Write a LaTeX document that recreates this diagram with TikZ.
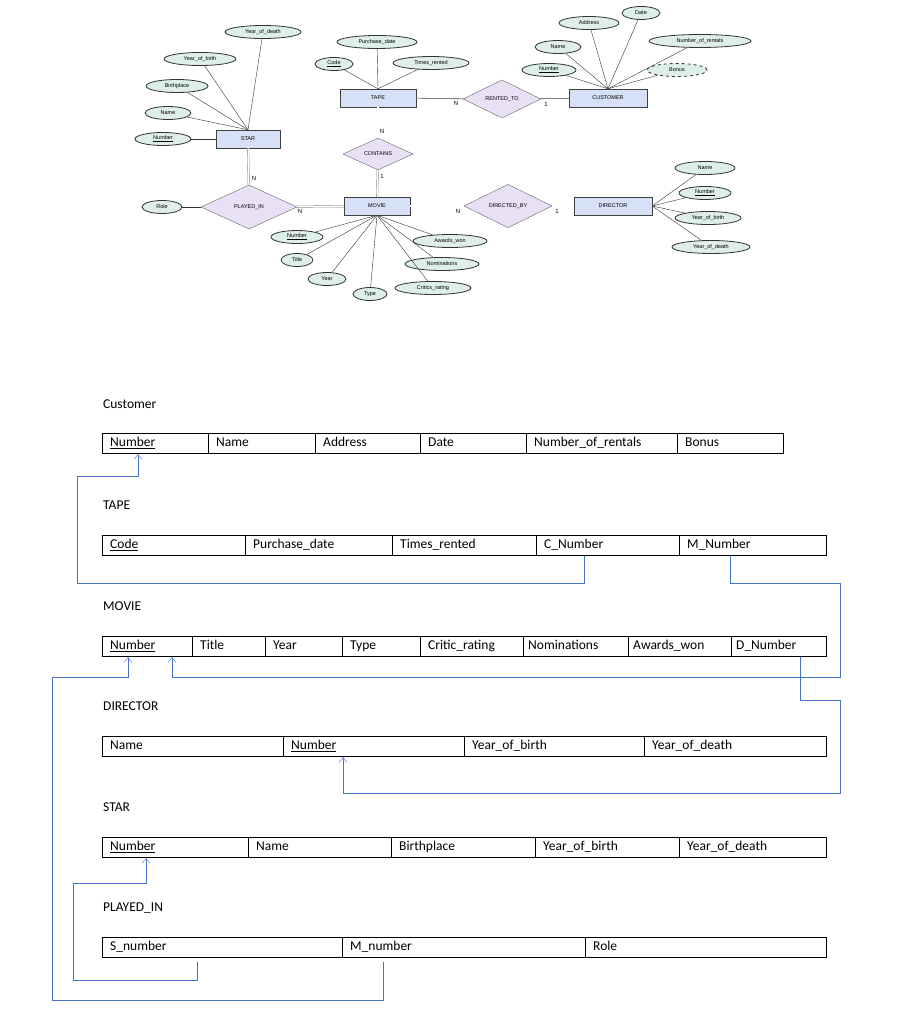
\documentclass[tikz,border=0pt]{standalone}
\usepackage{fontspec}
\setmainfont{Carlito}
\newfontfamily\erfont{Liberation Sans}
\usetikzlibrary{shapes.geometric,arrows.meta}
\definecolor{entfill}{RGB}{214,224,246}
\definecolor{relfill}{RGB}{232,224,244}
\definecolor{attfill}{RGB}{222,238,234}
\definecolor{arr}{RGB}{68,114,196}
\tikzset{
 ent/.style={draw=black!75,fill=entfill,minimum width=#1,minimum height=18pt,inner sep=0pt,font=\erfont\fontsize{5.5}{6}\selectfont},
 rel/.style={draw=black!60,fill=relfill,diamond,minimum width=#1,minimum height=38pt,inner sep=0pt,font=\erfont\fontsize{5.5}{6}\selectfont},
 att/.style={draw=black!80,thick,fill=attfill,ellipse,minimum width=#1,minimum height=13pt,inner sep=0pt,font=\erfont\fontsize{5.5}{6}\selectfont},
 dbl/.style={draw=gray,double=white,double distance=1.2pt,thin},
 sgl/.style={draw=gray,thick},
 al/.style={black!80,thin},
 card/.style={font=\erfont\fontsize{6}{7}\selectfont,inner sep=0pt},
 cell/.style={draw,anchor=west,minimum height=20pt,inner xsep=8pt,inner ysep=0pt,align=left,text height=10pt,text depth=3pt,font=\fontsize{13.5}{15}\selectfont},
 ttl/.style={anchor=west,inner sep=0pt,font=\fontsize{13.5}{15}\selectfont},
 fk/.style={draw=arr,thin},
 fka/.style={draw=arr,thin,-{Straight Barb[length=5pt,width=8pt]}}
}
\begin{document}
\begin{tikzpicture}[x=1pt,y=-1pt]
\useasboundingbox (0,0) rectangle (923,1024);
% ---------- ER diagram ----------
\node[ent=64pt] (STAR) at (248,139) {STAR};
\node[ent=76pt] (TAPE) at (378,98) {TAPE};
\node[ent=66pt] (MOVIE) at (377,206) {MOVIE};
\node[ent=78pt] (CUST) at (608,98) {CUSTOMER};
\node[ent=78pt] (DIR) at (613,206) {DIRECTOR};
\node[rel=70pt,minimum height=30pt] (CONT) at (378,154) {CONTAINS};
\node[rel=96pt,minimum height=44pt] (PLAY) at (249,207) {PLAYED\_IN};
\node[rel=78pt,minimum height=36pt] (RENT) at (502,99) {RENTED\_TO};
\node[rel=88pt,minimum height=40pt] (DIRBY) at (508,206) {DIRECTED\_BY};
% star attributes
\node[att=76pt] (sYd) at (263,32) {Year\_of\_death};
\node[att=72pt] (sYb) at (200,59) {Year\_of\_birth};
\node[att=62pt] (sBp) at (177,86) {Birthplace};
\node[att=46pt] (sNa) at (168,113) {Name};
\node[att=56pt] (sNu) at (163,139) {\underline{Number}};
\node[att=40pt] (role) at (162,207) {Role};
% tape attributes
\node[att=80pt] (tPd) at (377,42) {Purchase\_date};
\node[att=38pt] (tCo) at (334,64) {\underline{Code}};
\node[att=76pt] (tTr) at (431,63) {Times\_rented};
% customer attributes
\node[att=60pt] (cAd) at (589,23) {Address};
\node[att=38pt] (cDa) at (641,13) {Date};
\node[att=46pt] (cNa) at (558,47) {Name};
\node[att=54pt] (cNu) at (549,70) {\underline{Number}};
\node[att=102pt] (cNr) at (700,41) {Number\_of\_rentals};
\node[att=60pt,dashed] (cBo) at (677,70) {Bonus};
% director attributes
\node[att=60pt] (dNa) at (705,168) {Name};
\node[att=52pt] (dNu) at (705,193) {\underline{Number}};
\node[att=66pt] (dYb) at (708,218) {Year\_of\_birth};
\node[att=78pt] (dYd) at (711,247) {Year\_of\_death};
% movie attributes
\node[att=52pt] (mNu) at (297,237) {\underline{Number}};
\node[att=32pt] (mTi) at (297,260) {Title};
\node[att=38pt] (mYe) at (327,279) {Year};
\node[att=34pt] (mTy) at (370,294) {Type};
\node[att=74pt] (mAw) at (450,241) {Awards\_won};
\node[att=74pt] (mNo) at (442,264) {Nominations};
\node[att=76pt] (mCr) at (433,288) {Critics\_rating};
% attribute lines
\foreach \a in {sYd,sYb,sBp,sNa} \draw[al] (\a) -- (STAR.north);
\draw[al] (sNu) -- (STAR);
\draw[al] (role) -- (PLAY);
\foreach \a in {tPd,tCo,tTr} \draw[al] (\a) -- (TAPE.north);
\foreach \a in {cAd,cDa,cNa,cNu,cNr,cBo} \draw[al] (\a) -- (CUST.north);
\foreach \a in {dNa,dNu,dYb,dYd} \draw[al] (\a) -- (DIR.east);
\foreach \a in {mNu,mTi,mYe,mTy,mAw,mNo,mCr} \draw[al] (\a) -- (MOVIE.south);
% relationship lines
\draw[dbl] (STAR) -- (PLAY);
\draw[dbl] (PLAY) -- (MOVIE);
\draw[dbl] (TAPE) -- (CONT);
\draw[dbl] (CONT) -- (MOVIE);
\draw[dbl] (MOVIE) -- (DIRBY);
\draw[dbl] (DIRBY) -- (DIR);
\draw[sgl] (TAPE) -- (RENT);
\draw[sgl] (RENT) -- (CUST);
% cardinalities
\node[card] (k1) at (254,178) {N};
\node[card] (k2) at (300,211) {N};
\node[card] (k3) at (382,131) {N};
\node[card] (k4) at (382,176) {1};
\node[card] (k5) at (456,103) {N};
\node[card] (k6) at (546,104) {1};
\node[card] (k7) at (458,211) {N};
\node[card] (k8) at (557,211) {1};
% ---------- Relational tables ----------
\node[ttl] (tcust) at (103,404) {Customer};
\node[cell,text width=90pt] (c1) at (102,443) {\underline{Number}};
\node[cell,text width=91pt] (c2) at (208,443) {Name};
\node[cell,text width=89pt] (c3) at (315,443) {Address};
\node[cell,text width=90pt] (c4) at (420,443) {Date};
\node[cell,text width=135pt] (c5) at (526,443) {Number\_of\_rentals};
\node[cell,text width=90pt] (c6) at (677,443) {Bonus};

\node[ttl] (ttape) at (103,505) {TAPE};
\node[cell,text width=127pt] (t1) at (102,545) {\underline{Code}};
\node[cell,text width=131pt] (t2) at (245,545) {Purchase\_date};
\node[cell,text width=128pt] (t3) at (392,545) {Times\_rented};
\node[cell,text width=127pt] (t4) at (536,545) {C\_Number};
\node[cell,text width=131pt] (t5) at (679,545) {M\_Number};

\node[ttl] (tmovie) at (103,606) {MOVIE};
\node[cell,text width=74pt] (m1) at (102,646) {\underline{Number}};
\node[cell,text width=57pt] (m2) at (192,646) {Title};
\node[cell,text width=61pt] (m3) at (265,646) {Year};
\node[cell,text width=62pt] (m4) at (342,646) {Type};
\node[cell,text width=87pt] (m5) at (420,646) {Critic\_rating};
\node[cell,text width=89pt,inner xsep=5pt,text width=95pt] (m6) at (523,646) {Nominations};
\node[cell,text width=93pt,inner xsep=5pt] (m7) at (628,646) {Awards\_won};
\node[cell,text width=85pt,inner xsep=5pt] (m8) at (731,646) {D\_Number};

\node[ttl] (tdir) at (103,706) {DIRECTOR};
\node[cell,text width=165pt] (d1) at (102,746) {Name};
\node[cell,text width=165pt] (d2) at (283,746) {\underline{Number}};
\node[cell,text width=164pt] (d3) at (464,746) {Year\_of\_birth};
\node[cell,text width=166pt] (d4) at (644,746) {Year\_of\_death};

\node[ttl] (tstar) at (103,807) {STAR};
\node[cell,text width=130pt] (s1) at (102,847) {\underline{Number}};
\node[cell,text width=127pt] (s2) at (248,847) {Name};
\node[cell,text width=128pt] (s3) at (391,847) {Birthplace};
\node[cell,text width=128pt] (s4) at (535,847) {Year\_of\_birth};
\node[cell,text width=131pt] (s5) at (679,847) {Year\_of\_death};

\node[ttl] (tplay) at (103,908) {PLAYED\_IN};
\node[cell,text width=224pt] (p1) at (102,947) {S\_number};
\node[cell,text width=227pt] (p2) at (342,947) {M\_number};
\node[cell,text width=225pt] (p3) at (585,947) {Role};
% ---------- foreign key connectors ----------
\coordinate (a1s) at (584,556); \coordinate (a1e) at (138,454);
\draw[fka] (a1s) -- (584,583) -- (77,583) -- (77,476) -- (138,476) -- (a1e);
\coordinate (a2s) at (730,556); \coordinate (a2e) at (172,657);
\draw[fka] (a2s) -- (730,583) -- (840,583) -- (840,677) -- (172,677) -- (a2e);
\coordinate (a3s) at (800,657); \coordinate (a3e) at (343,757);
\draw[fka] (a3s) -- (800,700) -- (840,700) -- (840,793) -- (343,793) -- (a3e);
\coordinate (a4s) at (197,962); \coordinate (a4e) at (146,858);
\draw[fka] (a4s) -- (197,980) -- (73,980) -- (73,883) -- (146,883) -- (a4e);
\coordinate (a5s) at (383,962); \coordinate (a5e) at (128,657);
\draw[fka] (a5s) -- (383,1000) -- (52,1000) -- (52,677) -- (128,677) -- (a5e);
\end{tikzpicture}
\end{document}
